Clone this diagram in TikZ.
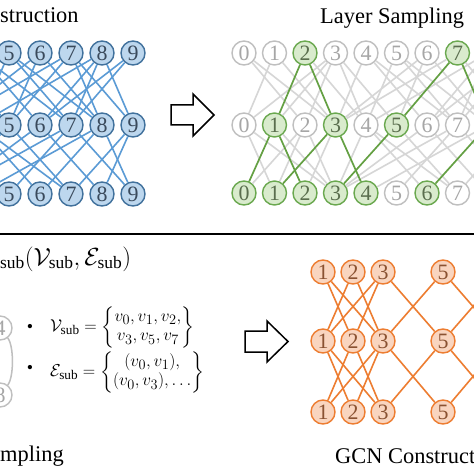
\documentclass[tikz,border=0pt]{standalone}
\usepackage{fontspec}
\setmainfont{Liberation Serif}
\usepackage{amsmath}
\begin{document}
\begin{tikzpicture}[x=1bp,y=-1bp]
\definecolor{bfill}{HTML}{BDD7EE}
\definecolor{bline}{HTML}{41719C}
\definecolor{btext}{HTML}{3A4A5C}
\definecolor{bedgec}{HTML}{5B9BD5}
\definecolor{gline}{HTML}{BFBFBF}
\definecolor{gtext}{HTML}{A6A6A6}
\definecolor{gedgec}{HTML}{D6D6D6}
\definecolor{grfill}{HTML}{D9EBCD}
\definecolor{grline}{HTML}{6AA84F}
\definecolor{grtext}{HTML}{5A6E4E}
\definecolor{gredgec}{HTML}{64A043}
\definecolor{ofill}{HTML}{F9D5BF}
\definecolor{oline}{HTML}{ED7D31}
\definecolor{otext}{HTML}{8A5232}
\definecolor{oedgec}{HTML}{ED7D31}
\tikzset{
  nd/.style={circle, minimum size=24bp, inner sep=0pt, line width=1.4bp, font=\fontsize{22}{22}\selectfont},
  bnode/.style={nd, draw=bline, fill=bfill, text=btext},
  gnode/.style={nd, draw=gline, fill=white, text=gtext},
  grnode/.style={nd, draw=grline, fill=grfill, text=grtext},
  onode/.style={nd, draw=oline, fill=ofill, text=otext},
  bedge/.style={draw=bedgec, line width=1.6bp},
  gedge/.style={draw=gedgec, line width=1.6bp},
  gredge/.style={draw=gredgec, line width=1.7bp},
  oedge/.style={draw=oedgec, line width=1.6bp},
  title/.style={font=\fontsize{22.5}{27}\selectfont, inner sep=0pt},
  setexpr/.style={anchor=west, inner sep=0pt, font=\fontsize{19}{20}\selectfont},
  bigarrow/.style={draw=black, fill=white, line width=1.5bp, line join=miter},
}
\clip (0,0) rectangle (474,474);
\fill[white] (0,0) rectangle (474,474);

% ---------- titles ----------
\node[title, anchor=base west] (t1) at (0,23) {struction};
\node[title, anchor=base west] (t2) at (320,24) {Layer Sampling};
\node[title, anchor=base west] (t3) at (0,461) {mpling};
\node[title, anchor=base west] (t4) at (335,463) {GCN Construct};

% ---------- separator ----------
\draw[line width=2bp] (0,234) -- (474,234);

% ---------- top-left: full graph (nodes 0-4 lie beyond the left edge) ----------
\foreach \i in {0,...,4} {
  \coordinate (Lt\i) at ({31*\i-146},53);
  \coordinate (Lm\i) at ({31*\i-146},125);
  \coordinate (Lb\i) at ({31*\i-146},194);
}
\foreach \i in {5,...,9} {
  \node[bnode] (Lt\i) at ({31*\i-146},53) {\i};
  \node[bnode] (Lm\i) at ({31*\i-146},125) {\i};
  \node[bnode] (Lb\i) at ({31*\i-146},194) {\i};
}
\foreach \a/\b in {0/2,0/3,1/0,1/3,2/1,2/3,2/4,3/0,3/1,3/2,3/4,3/5,4/3,4/6,4/7,5/4,5/7,5/8,6/3,6/5,6/8,7/3,7/5,7/8,7/9,8/4,8/6,8/7,8/9,9/6,9/7}
  \draw[bedge] (Lt\a) -- (Lm\b);
\foreach \a/\b in {0/1,0/3,1/0,1/2,1/3,2/0,2/1,2/3,3/1,3/2,3/4,4/3,4/6,4/7,5/3,5/7,6/3,6/8,7/3,7/5,7/9,8/4,8/6,8/9,9/7,9/8}
  \draw[bedge] (Lm\a) -- (Lb\b);

% ---------- top arrow ----------
\draw[bigarrow] (171,105) -- (193,105) -- (193,94) -- (214,115) -- (193,136) -- (193,125) -- (171,125) -- cycle;

% ---------- top-right: layer sampling (nodes 8-9 lie beyond the right edge) ----------
\foreach \i in {8,9} {
  \coordinate (Rt\i) at ({244+30.5*\i},53);
  \coordinate (Rm\i) at ({244+30.5*\i},125);
  \coordinate (Rb\i) at ({244+30.5*\i},193);
}
\foreach \i in {0,1,3,4,5,6} \node[gnode] (Rt\i) at ({244+30.5*\i},53) {\i};
\foreach \i in {2,7} \node[grnode] (Rt\i) at ({244+30.5*\i},53) {\i};
\foreach \i in {0,2,4,6,7} \node[gnode] (Rm\i) at ({244+30.5*\i},125) {\i};
\foreach \i in {1,3,5} \node[grnode] (Rm\i) at ({244+30.5*\i},125) {\i};
\foreach \i in {5,7} \node[gnode] (Rb\i) at ({244+30.5*\i},193) {\i};
\foreach \i in {0,1,2,3,4,6} \node[grnode] (Rb\i) at ({244+30.5*\i},193) {\i};
\foreach \a/\b in {0/2,0/3,1/0,1/3,2/4,3/0,3/1,3/2,3/4,3/5,4/3,4/6,4/7,5/4,5/7,5/8,6/3,6/5,6/8,7/3,7/9,8/4,8/6,8/7,8/9,9/6,9/7}
  \draw[gedge] (Rt\a) -- (Rm\b);
\foreach \a/\b in {0/1,0/3,1/3,2/0,2/1,2/3,3/2,4/3,4/6,4/7,5/7,6/3,6/8,7/3,7/5,7/9,8/4,8/9,9/7,9/8}
  \draw[gedge] (Rm\a) -- (Rb\b);
\foreach \a/\b in {2/1,2/3,7/5,7/8}
  \draw[gredge] (Rt\a) -- (Rm\b);
\foreach \a/\b in {1/0,1/2,3/1,3/4,5/3,8/6}
  \draw[gredge] (Rm\a) -- (Rb\b);

% ---------- bottom-left: subgraph ----------
\node[inner sep=0pt, anchor=west, font=\fontsize{25}{29}\selectfont] (sg) at (0,259)
  {${}_{\mathrm{sub}}(\mathcal{V}_{\mathrm{sub}},\mathcal{E}_{\mathrm{sub}})$};
\node[gnode] (p4) at (0,328) {4};
\node[gnode] (p8) at (0,395) {8};
\draw[draw=gline, line width=1.5bp] (p4) .. controls +(14,18) and +(14,-18) .. (p8);
\node[font=\fontsize{18}{18}\selectfont, inner sep=0pt] (b1) at (30,328) {\textbullet};
\node[font=\fontsize{18}{18}\selectfont, inner sep=0pt] (b2) at (30,369) {\textbullet};
\node[setexpr] (vs) at (50,327)
  {$\mathcal{V}_{\mathrm{sub}} = \left\{\begin{matrix} v_0, v_1, v_2,\\ v_3, v_5, v_7\end{matrix}\right\}$};
\node[setexpr] (es) at (50,372)
  {$\mathcal{E}_{\mathrm{sub}} = \left\{\begin{matrix} (v_0, v_1),\\ (v_0, v_3), \ldots\end{matrix}\right\}$};

% ---------- bottom arrow ----------
\draw[bigarrow] (245,331) -- (267,331) -- (267,321) -- (288,341.5) -- (267,362) -- (267,352) -- (245,352) -- cycle;

% ---------- bottom-right: GCN (node 7 lies beyond the right edge) ----------
\coordinate (Gt7) at (503,272);
\coordinate (Gm7) at (503,341);
\coordinate (Gb7) at (503,412);
\foreach \i in {1,2,3,5} {
  \node[onode] (Gt\i) at ({293+30*\i},272) {\i};
  \node[onode] (Gm\i) at ({293+30*\i},341) {\i};
  \node[onode] (Gb\i) at ({293+30*\i},412) {\i};
}
\foreach \a/\b in {1/2,1/3,2/1,2/3,3/1,3/2,3/5,5/3,5/7,7/5} {
  \draw[oedge] (Gt\a) -- (Gm\b);
  \draw[oedge] (Gm\a) -- (Gb\b);
}
\end{tikzpicture}
\end{document}
